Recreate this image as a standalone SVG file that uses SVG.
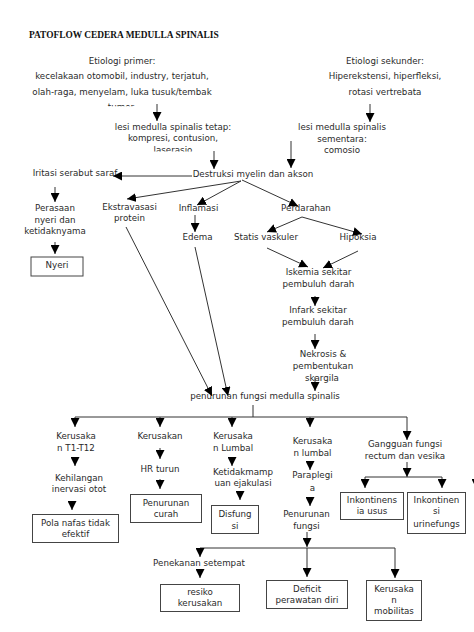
<svg xmlns="http://www.w3.org/2000/svg" width="474" height="632" viewBox="0 0 474 632">
<style>
text{font-family:"DejaVu Sans","Noto Sans",sans-serif;font-size:8.7px;fill:#2a2a2a;text-anchor:middle}
.title{font-family:"Liberation Serif","Times New Roman",serif;font-weight:bold;font-size:9.4px;text-anchor:start;fill:#111}
.box{fill:#fff;stroke:#444;stroke-width:1}
.c path{fill:none;stroke:#333;stroke-width:1}
.a{marker-end:url(#ah)}
</style>
<defs>
<marker id="ah" viewBox="0 0 10 10" refX="10" refY="5" markerWidth="9" markerHeight="9" markerUnits="userSpaceOnUse" orient="auto">
<path d="M0,0 L10,5 L0,10 Z" fill="#000"/>
</marker>
<clipPath id="clipTumor"><rect x="0" y="0" width="474" height="106.3"/></clipPath>
<clipPath id="clipLas"><rect x="0" y="0" width="474" height="151.5"/></clipPath>
</defs>
<rect width="474" height="632" fill="#fff"/>
<text class="title" x="29" y="38">PATOFLOW CEDERA MEDULLA SPINALIS</text>

<g id="etiologi-primer">
<text x="122" y="64">Etiologi primer:</text>
<text x="122" y="79">kecelakaan otomobil, industry, terjatuh,</text>
<text x="122" y="95">olah-raga, menyelam, luka tusuk/tembak</text>
<text x="121" y="110" clip-path="url(#clipTumor)">tumor</text>
</g>
<g id="etiologi-sekunder">
<text x="385" y="64">Etiologi sekunder:</text>
<text x="385" y="79">Hiperekstensi, hiperfleksi,</text>
<text x="385" y="95">rotasi vertrebata</text>
</g>
<g id="lesi-tetap">
<text x="173" y="130">lesi medulla spinalis tetap:</text>
<text x="173" y="141">kompresi, contusion,</text>
<text x="173" y="152.5" clip-path="url(#clipLas)">laserasio</text>
</g>
<g id="lesi-sementara">
<text x="342" y="130">lesi medulla spinalis</text>
<text x="342" y="141.5">sementara:</text>
<text x="342" y="152.5">comosio</text>
</g>
<g id="destruksi"><text x="253" y="177">Destruksi myelin dan akson</text></g>
<g id="iritasi"><text x="75" y="176">Iritasi serabut saraf</text></g>
<g id="perasaan">
<text x="55" y="211">Perasaan</text>
<text x="55" y="223">nyeri dan</text>
<text x="55" y="234">ketidaknyama</text>
</g>
<g id="nyeri"><rect class="box" x="31" y="257" width="52" height="19"/><text x="57" y="267.5">Nyeri</text></g>
<g id="ekstravasasi">
<text x="129.5" y="210">Ekstravasasi</text>
<text x="129.5" y="221">protein</text>
</g>
<g id="inflamasi"><text x="198.5" y="211">Inflamasi</text></g>
<g id="edema"><text x="197.5" y="240">Edema</text></g>
<g id="perdarahan"><text x="306" y="211">Perdarahan</text></g>
<g id="statis"><text x="266" y="240">Statis vaskuler</text></g>
<g id="hipoksia"><text x="358" y="240">Hipoksia</text></g>
<g id="iskemia">
<text x="318.5" y="275">Iskemia sekitar</text>
<text x="318.5" y="287">pembuluh darah</text>
</g>
<g id="infark">
<text x="318" y="313">Infark sekitar</text>
<text x="318" y="325">pembuluh darah</text>
</g>
<g id="nekrosis">
<text x="323" y="357">Nekrosis &amp;</text>
<text x="323" y="369">pembentukan</text>
<text x="322" y="380.5">skargila</text>
</g>
<g id="penurunan-fungsi"><text x="265" y="399">penurunan fungsi medulla spinalis</text></g>

<g id="kerusakan-t1">
<text x="76" y="439">Kerusaka</text>
<text x="76" y="451">n T1-T12</text>
</g>
<g id="kehilangan">
<text x="79" y="481">Kehilangan</text>
<text x="79" y="492">inervasi otot</text>
</g>
<g id="pola-nafas"><rect class="box" x="32.5" y="514.5" width="86" height="28"/><text x="75.5" y="526">Pola nafas tidak</text><text x="75.5" y="537">efektif</text></g>

<g id="kerusakan"><text x="160" y="439">Kerusakan</text></g>
<g id="hr-turun"><text x="160" y="472">HR turun</text></g>
<g id="penurunan-curah"><rect class="box" x="130.5" y="494.5" width="71" height="28"/><text x="166" y="506">Penurunan</text><text x="166" y="517">curah</text></g>

<g id="kerusakan-lumbal">
<text x="233" y="439">Kerusaka</text>
<text x="233" y="451">n Lumbal</text>
</g>
<g id="ketidakmampuan">
<text x="243" y="475">Ketidakmamp</text>
<text x="243" y="486">uan ejakulasi</text>
</g>
<g id="disfungsi"><rect class="box" x="211.5" y="505.5" width="47" height="28"/><text x="235" y="517">Disfung</text><text x="235" y="529">si</text></g>

<g id="kerusakan-lumbal2">
<text x="312.5" y="444">Kerusaka</text>
<text x="312.5" y="456">n lumbal</text>
</g>
<g id="paraplegia">
<text x="312.5" y="478">Paraplegi</text>
<text x="312.5" y="490.5">a</text>
</g>
<g id="penurunan-fungsi2">
<text x="306.5" y="517">Penurunan</text>
<text x="306.5" y="529">fungsi</text>
</g>
<g id="penekanan"><text x="199" y="566">Penekanan setempat</text></g>
<g id="resiko"><rect class="box" x="160.5" y="584.5" width="79" height="27"/><text x="200" y="595">resiko</text><text x="200" y="606">kerusakan</text></g>
<g id="deficit"><rect class="box" x="266.5" y="580.5" width="81" height="28"/><text x="307" y="592">Deficit</text><text x="307" y="603">perawatan diri</text></g>
<g id="kerusakan-mobilitas"><rect class="box" x="366.5" y="580.5" width="55" height="40"/><text x="394" y="592">Kerusaka</text><text x="394" y="603">n</text><text x="394" y="614">mobilitas</text></g>

<g id="gangguan">
<text x="405" y="447">Gangguan fungsi</text>
<text x="405" y="459">rectum dan vesika</text>
</g>
<g id="inkontinensia-usus"><rect class="box" x="340.5" y="492.5" width="63" height="27"/><text x="372" y="503">Inkontinens</text><text x="372" y="514">ia usus</text></g>
<g id="inkontinensia-urine"><rect class="box" x="407.5" y="492.5" width="58" height="41"/><text x="436.5" y="503">Inkontinen</text><text x="436.5" y="514">si</text><text x="436.5" y="526.5">urinefungs</text></g>

<g id="connectors" class="c">
<path class="a" d="M157,104 V121"/>
<path class="a" d="M370,104 V122"/>
<path class="a" d="M214,151 V169"/>
<path class="a" d="M291,141 V168"/>
<path class="a" d="M192,176 H113"/>
<path class="a" d="M241,181 L127,199"/>
<path class="a" d="M241,181 L197,205"/>
<path class="a" d="M242,180 L298,206"/>
<path class="a" d="M55,187 V202"/>
<path class="a" d="M55,242 V254"/>
<path class="a" d="M195,215 V232"/>
<path class="a" d="M302,217 L267,232"/>
<path class="a" d="M302,217 L362,234"/>
<path class="a" d="M267,248 L308,267"/>
<path class="a" d="M358,251 L323,268"/>
<path class="a" d="M315,296 V306"/>
<path class="a" d="M315,334 V349"/>
<path class="a" d="M315,377 V391"/>
<path class="a" d="M126,227 L212,396"/>
<path class="a" d="M195,247 L228,396"/>
<path d="M253,405 V417 M75,417 H407"/>
<path class="a" d="M75,417 V427"/>
<path class="a" d="M160,417 V427"/>
<path class="a" d="M232,417 V427"/>
<path class="a" d="M310,417 V427"/>
<path class="a" d="M407,417 V440"/>
<path class="a" d="M75,457 V466"/>
<path class="a" d="M72,502 V510"/>
<path class="a" d="M160,448 V459"/>
<path class="a" d="M160,479 V489"/>
<path class="a" d="M232,458 V466"/>
<path class="a" d="M240,492 V500"/>
<path class="a" d="M310,462 V470"/>
<path class="a" d="M310,497 V506"/>
<path class="a" d="M307,532 V547"/>
<path d="M200,548 H395"/>
<path class="a" d="M200,548 V557"/>
<path class="a" d="M307,548 V577"/>
<path class="a" d="M395,548 V578"/>
<path class="a" d="M200,570 V578"/>
<path class="a" d="M407,462 V477"/>
<path d="M365,477 H442"/>
<path class="a" d="M365,477 V488"/>
<path class="a" d="M442,477 V488"/>
<path class="a" d="M476,478 V488"/>
</g>
</svg>
